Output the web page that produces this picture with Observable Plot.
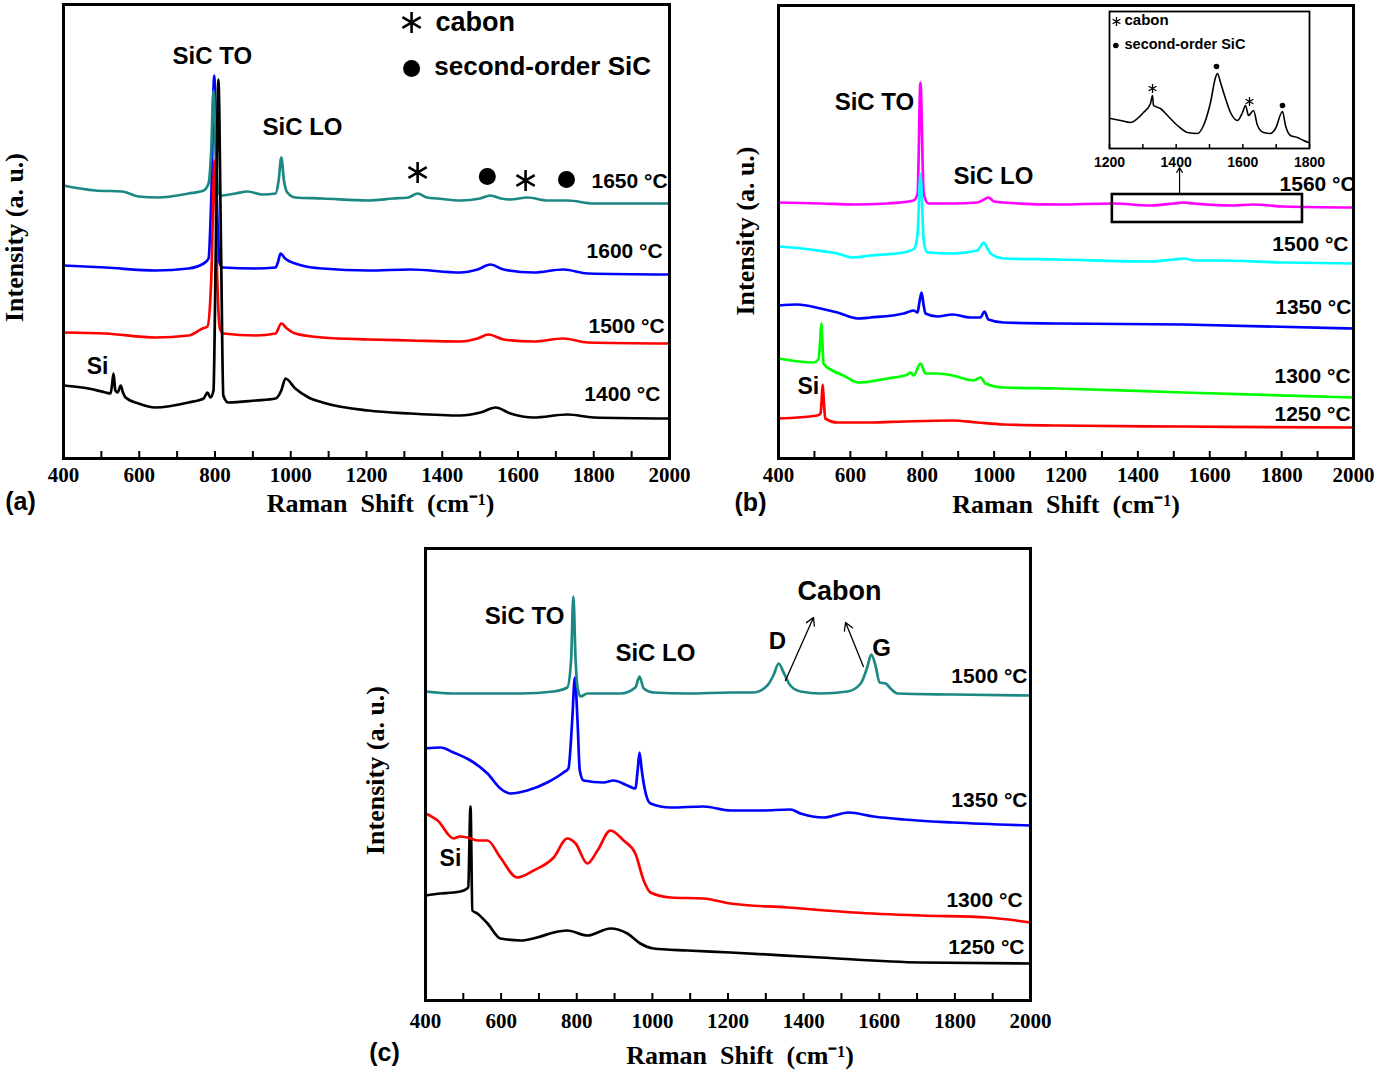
<!DOCTYPE html>
<html>
<head>
<meta charset="utf-8">
<script src="https://cdn.jsdelivr.net/npm/d3@7"></script>
<script src="https://cdn.jsdelivr.net/npm/@observablehq/plot@0.6"></script>
<style>
  body { margin: 0; background: #fff; }
  #fig { position: relative; width: 1378px; height: 1072px; overflow: hidden; background: #fff; }
  #fig svg { position: absolute; overflow: visible; }
</style>
</head>
<body>
<div id="fig"></div>
<script>
// Raman spectra, pairs of [Raman shift (cm^-1), intensity (a.u., curves offset vertically)]

// (a) samples annealed at 1400-1650 °C
const a1650 = [[400,273],[484,268],[555,267],[598,262],[651,261],[730,265],[770,268],[783,275],[790,308],[796,368],[802,308],[808,268],[815,263],[854,265],[886,267],[925,264],[960,265],[968,278],[975,301],[982,278],[991,266],[1012,261],[1084,260],[1205,258],[1271,260],[1310,261],[1335,265],[1360,261],[1387,260],[1448,258],[1500,260],[1527,263],[1555,260],[1580,259],[1625,261],[1678,258],[1731,258],[1800,255],[1889,255],[2000,255]];
const a1600 = [[400,193],[511,191],[643,188],[730,190],[770,195],[783,200],[790,258],[798,383],[805,258],[812,196],[820,191],[907,190],[960,191],[966,196],[973,205],[985,200],[1012,195],[1040,192],[1084,190],[1205,188],[1316,189],[1448,186],[1493,189],[1527,194],[1562,189],[1641,186],[1720,189],[1784,185],[2000,184]];
const a1500 = [[400,126],[511,125],[643,121],[730,123],[767,130],[780,132],[790,178],[799,298],[806,178],[813,130],[822,125],[907,123],[960,125],[975,135],[990,130],[1012,125],[1084,121],[1205,119],[1316,118],[1448,117],[1493,120],[1522,124],[1562,119],[1641,117],[1720,120],[1784,116],[2000,115]];
const a1400 = [[400,73],[466,70],[511,66],[524,65],[528,73],[532,85],[537,68],[543,66],[551,73],[557,66],[564,61],[598,55],[643,51],[730,56],[770,60],[780,66],[788,61],[796,68],[802,208],[809,379],[816,208],[822,63],[835,56],[907,58],[960,60],[975,68],[986,80],[1012,70],[1047,61],[1084,56],[1205,48],[1316,45],[1448,43],[1501,46],[1541,51],[1580,45],[1641,41],[1731,44],[1800,41],[2000,40]];

// (b) samples annealed at 1250-1560 °C
const b1560 = [[400,256],[517,255],[609,254],[703,255],[776,258],[787,265],[795,376],[804,265],[817,255],[887,255],[953,256],[972,259],[984,261],[1000,257],[1026,256],[1176,254],[1332,255],[1435,253],[1500,255],[1527,256],[1555,255],[1666,253],[1719,254],[1805,252],[2000,251]];
const b1500 = [[400,212],[489,209],[564,205],[606,201],[656,203],[748,206],[778,210],[787,225],[795,285],[804,218],[814,206],[887,205],[953,208],[962,212],[971,216],[980,211],[990,205],[1026,200],[1176,199],[1435,197],[1500,199],[1527,200],[1560,198],[1620,198],[1805,196],[2000,195]];
const b1350 = [[400,153],[453,154],[517,150],[564,146],[620,140],[656,141],[748,145],[776,148],[787,146],[792,156],[798,166],[804,153],[809,145],[842,142],[884,144],[934,141],[962,141],[973,147],[984,139],[1026,136],[1176,135],[1527,134],[2000,130]];
const b1300 = [[400,100],[497,96],[511,99],[516,118],[519,135],[522,118],[525,95],[550,88],[581,83],[622,76],[703,80],[759,84],[767,86],[776,83],[795,95],[809,85],[842,85],[884,83],[943,78],[962,81],[976,75],[1026,71],[1176,70],[1527,66],[2000,61]];
const b1250 = [[400,40],[508,43],[517,45],[520,58],[523,74],[526,58],[530,40],[564,36],[656,36],[748,37],[884,38],[953,36],[1026,34],[1176,33],[1527,32],[2000,31]];

// (b) inset: 1560 °C spectrum enlarged between 1200 and 1800 cm^-1
const inset1560 = [[1203,30],[1233,28],[1263,26],[1284,30],[1302,36],[1323,45],[1329,53],[1332,43],[1353,40],[1374,33],[1404,23],[1434,16],[1464,15],[1482,23],[1503,46],[1518,71],[1524,75],[1533,66],[1548,50],[1563,36],[1584,28],[1599,36],[1608,43],[1617,33],[1632,38],[1644,23],[1662,16],[1683,15],[1698,20],[1719,37],[1728,23],[1743,13],[1764,11],[1782,8],[1797,6]];

// (c) samples annealed at 1250-1500 °C
const c1500 = [[400,309],[474,307],[564,307],[651,307],[739,309],[775,313],[785,340],[791,404],[797,340],[802,313],[810,304],[828,307],[916,307],[955,313],[966,324],[977,312],[1003,308],[1093,307],[1207,308],[1267,308],[1304,315],[1320,325],[1334,337],[1347,328],[1365,315],[1392,309],[1445,307],[1516,309],[1551,317],[1568,333],[1579,346],[1590,335],[1601,318],[1617,317],[1630,312],[1648,307],[1796,306],[2000,305]];
const c1350 = [[400,252],[440,253],[474,248],[519,240],[564,227],[598,212],[625,207],[669,210],[722,218],[765,228],[778,232],[788,280],[795,323],[802,280],[808,230],[818,220],[871,218],[897,220],[934,215],[955,212],[961,230],[966,248],[972,230],[979,213],[995,197],[1048,193],[1135,194],[1207,190],[1286,190],[1365,191],[1392,187],[1453,183],[1519,188],[1585,184],[1664,181],[1796,178],[2000,175]];
const c1300 = [[400,187],[432,180],[474,162],[490,164],[511,163],[540,160],[564,160],[598,143],[643,123],[686,130],[739,143],[775,162],[797,157],[828,137],[855,150],[889,170],[924,160],[955,147],[977,120],[995,108],[1048,103],[1135,102],[1207,97],[1357,93],[1532,88],[1709,85],[1886,83],[2000,78]];
const c1250 = [[400,105],[440,107],[474,108],[501,110],[513,113],[519,194],[524,90],[537,87],[564,77],[598,62],[651,60],[695,63],[739,68],[775,70],[828,65],[889,72],[934,67],[968,57],[1003,52],[1093,50],[1207,48],[1445,43],[1709,38],[2000,37]];

// axis ticks
const xMajor = [400, 600, 800, 1000, 1200, 1400, 1600, 1800, 2000];
const xMinor = [500, 700, 900, 1100, 1300, 1500, 1700, 1900];
const insetMajor = [1200, 1400, 1600, 1800];
const insetMinor = [1300, 1500, 1700];

// ---------------------------------------------------------------------------
const SANS = "'Liberation Sans', Arial, Helvetica, sans-serif";
const SERIF = "'Liberation Serif', 'Times New Roman', serif";
const X_TITLE = "Raman\u00a0 Shift\u00a0 (cm\u207b\u00b9)";
const Y_TITLE = "Intensity (a. u.)";

const rows = (pairs) => pairs.map(([x, y]) => ({x, y}));

function label(text, x, y, o = {}) {
  return Plot.text([{x, y}], {
    x: "x", y: "y", text: () => text,
    fontFamily: SANS, fontWeight: "bold", fontSize: 24, fill: "black",
    textAnchor: "middle", lineAnchor: "middle", ...o
  });
}

function panel(cfg) {
  const plotH = cfg.height - cfg.marginTop - cfg.marginBottom;
  const marks = [
    ...cfg.lines.map(l => Plot.line(rows(l.data), {x: "x", y: "y", stroke: l.color, strokeWidth: 2.7,
      strokeLinejoin: "round", curve: "monotone-x"})),
    Plot.ruleX([...xMajor, ...xMinor], {x: d => d, y1: 0, y2: 7, stroke: "black", strokeWidth: 2}),
    Plot.axisX({ticks: xMajor, tickSize: 0, tickPadding: cfg.tickPadding ?? 9, tickFormat: d => String(d), label: null,
      fontFamily: SERIF, fontWeight: "bold", fontSize: 21, fill: "black"}),
    Plot.frame({stroke: "black", strokeWidth: 3}),
    Plot.text([X_TITLE], {frameAnchor: "bottom", text: d => d, dx: cfg.xTitle[0], dy: cfg.xTitle[1],
      textAnchor: "middle", lineAnchor: "middle", fontFamily: SERIF, fontWeight: "bold", fontSize: 26, fill: "black"}),
    Plot.text([Y_TITLE], {frameAnchor: "left", text: d => d, rotate: -90, dx: cfg.yTitle[0], dy: cfg.yTitle[1],
      textAnchor: "middle", lineAnchor: "middle", fontFamily: SERIF, fontWeight: "bold", fontSize: 26, fill: "black"}),
    Plot.text([cfg.tag], {frameAnchor: "bottom-left", text: d => d, dx: cfg.tagPos[0], dy: cfg.tagPos[1],
      textAnchor: "middle", lineAnchor: "middle", fontFamily: SANS, fontWeight: "bold", fontSize: 25, fill: "black"}),
    ...cfg.extra
  ];
  const svg = Plot.plot({
    width: cfg.width, height: cfg.height,
    marginTop: cfg.marginTop, marginBottom: cfg.marginBottom,
    marginLeft: cfg.marginLeft, marginRight: cfg.marginRight,
    x: {type: "linear", domain: [400, 2000]},
    y: {type: "linear", domain: [0, plotH], axis: null},
    style: {background: "transparent", overflow: "visible", fontFamily: SERIF},
    marks
  });
  svg.style.left = cfg.left + "px";
  svg.style.top = cfg.top + "px";
  return svg;
}

const tempLabel = (t, x, y) => label(t, x, y, {fontSize: 21, textAnchor: "end"});
const asterisk = (pts, r, w) => Plot.dot(pts.map(([x, y]) => ({x, y})), {x: "x", y: "y", symbol: "asterisk", r, stroke: "black", strokeWidth: w});
const bullet = (pts, r) => Plot.dot(pts.map(([x, y]) => ({x, y})), {x: "x", y: "y", r, fill: "black", stroke: "none"});

const fig = document.getElementById("fig");

// ---- (a) ----
fig.appendChild(panel({
  left: 0, top: 0, width: 700, height: 530,
  marginLeft: 63, marginRight: 31, marginTop: 4, marginBottom: 72,
  lines: [
    {data: a1600, color: "#0000ff"},
    {data: a1650, color: "#1c8883"},
    {data: a1500, color: "#ff0000"},
    {data: a1400, color: "#000000"}
  ],
  xTitle: [14, 45], yTitle: [-49, 6], tag: "(a)", tagPos: [-43, 43],
  extra: [
    label("SiC TO", 793, 402),
    label("SiC LO", 1031, 331),
    label("Si", 490, 92, {fontSize: 23}),
    asterisk([[1319, 436]], 10, 2.6),
    label("cabon", 1382, 436, {textAnchor: "start", fontSize: 27}),
    bullet([[1319, 390]], 8.5),
    label("second-order SiC", 1379, 392, {textAnchor: "start", fontSize: 26}),
    asterisk([[1335, 286], [1620, 278]], 10, 2.6),
    bullet([[1519, 282], [1728, 279]], 8.5),
    tempLabel("1650 °C", 1995, 277),
    tempLabel("1600 °C", 1982, 207),
    tempLabel("1500 °C", 1987, 132),
    tempLabel("1400 °C", 1976, 64)
  ]
}));

// ---- (b) ----
fig.appendChild(panel({
  left: 700, top: 0, width: 678, height: 530,
  marginLeft: 78, marginRight: 25, marginTop: 5, marginBottom: 72,
  lines: [
    {data: b1250, color: "#ff0000"},
    {data: b1300, color: "#00ff00"},
    {data: b1350, color: "#0000ff"},
    {data: b1560, color: "#ff00ff"},
    {data: b1500, color: "#00ffff"}
  ],
  xTitle: [0, 46], yTitle: [-33, -1], tag: "(b)", tagPos: [-28, 44],
  extra: [
    label("SiC TO", 667, 356),
    label("SiC LO", 998, 282),
    label("Si", 483, 72, {fontSize: 23}),
    Plot.rect([{x1: 1329, x2: 1858, y1: 236, y2: 264}], {x1: "x1", x2: "x2", y1: "y1", y2: "y2", fill: "none", stroke: "black", strokeWidth: 2.6}),
    Plot.arrow([{x1: 1516, y1: 264, x2: 1516, y2: 291}], {x1: "x1", y1: "y1", x2: "x2", y2: "y2", stroke: "black", strokeWidth: 1.2, headLength: 7}),
    tempLabel("1560 °C", 2006, 274),
    tempLabel("1500 °C", 1986, 214),
    tempLabel("1350 °C", 1994, 151),
    tempLabel("1300 °C", 1992, 82),
    tempLabel("1250 °C", 1992, 44)
  ]
}));

// ---- (b) inset ----
{
  const W = 240, H = 180, mL = 20, mR = 20, mT = 11, mB = 32;
  const svg = Plot.plot({
    width: W, height: H, marginLeft: mL, marginRight: mR, marginTop: mT, marginBottom: mB,
    x: {type: "linear", domain: [1200, 1800]},
    y: {type: "linear", domain: [0, H - mT - mB], axis: null},
    style: {background: "transparent", overflow: "visible"},
    marks: [
      Plot.line(rows(inset1560), {x: "x", y: "y", stroke: "black", strokeWidth: 1.6, curve: "monotone-x"}),
      Plot.ruleX([...insetMajor, ...insetMinor], {x: d => d, y1: 0, y2: 4, stroke: "black", strokeWidth: 1.5}),
      Plot.axisX({ticks: insetMajor, tickSize: 0, tickPadding: 9, tickFormat: d => String(d), label: null,
        fontFamily: SANS, fontWeight: "bold", fontSize: 14, fill: "black"}),
      Plot.frame({stroke: "black", strokeWidth: 1.8}),
      asterisk([[1221, 127]], 4.2, 1.3),
      label("cabon", 1245, 128, {textAnchor: "start", fontSize: 15}),
      bullet([[1219, 103]], 2.8),
      label("second-order SiC", 1245, 104, {textAnchor: "start", fontSize: 14.5}),
      asterisk([[1329, 60], [1620, 47]], 4.2, 1.3),
      bullet([[1521, 82], [1719, 43]], 2.8)
    ]
  });
  svg.style.left = "1089px";
  svg.style.top = "0px";
  fig.appendChild(svg);
}

// ---- (c) ----
fig.appendChild(panel({
  left: 340, top: 540, width: 720, height: 532,
  marginLeft: 85, marginRight: 30, marginTop: 8, marginBottom: 72,
  tickPadding: 13,
  lines: [
    {data: c1250, color: "#000000"},
    {data: c1300, color: "#ff0000"},
    {data: c1350, color: "#0000ff"},
    {data: c1500, color: "#1c8883"}
  ],
  xTitle: [12, 55], yTitle: [-50, -4], tag: "(c)", tagPos: [-41, 52],
  extra: [
    label("SiC TO", 662, 384),
    label("SiC LO", 1008, 347),
    label("D", 1331, 359),
    label("G", 1606, 352),
    label("Cabon", 1495, 409, {fontSize: 27}),
    label("Si", 466, 142, {fontSize: 23}),
    Plot.arrow([{x1: 1352, y1: 320, x2: 1426, y2: 383}, {x1: 1558, y1: 334, x2: 1511, y2: 378}],
      {x1: "x1", y1: "y1", x2: "x2", y2: "y2", stroke: "black", strokeWidth: 1.3, headLength: 10}),
    tempLabel("1500 °C", 1992, 324),
    tempLabel("1350 °C", 1992, 200),
    tempLabel("1300 °C", 1979, 100),
    tempLabel("1250 °C", 1984, 53)
  ]
}));
</script>
</body>
</html>
